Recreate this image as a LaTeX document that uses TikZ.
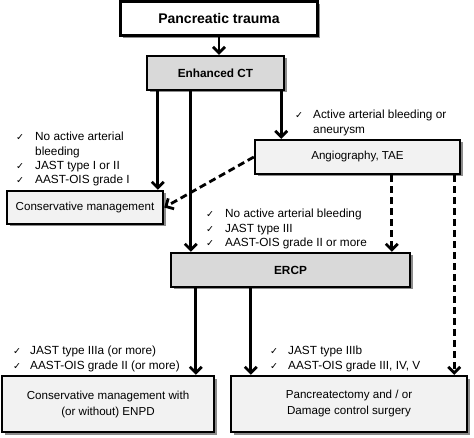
\documentclass[tikz,border=0pt]{standalone}
\usepackage{fontspec}
\setmainfont{Liberation Sans}
\newfontfamily\chkfont{DejaVu Sans}
\usetikzlibrary{arrows.meta,shadows}
\definecolor{boxgray}{HTML}{D9D9D9}
\definecolor{boxlight}{HTML}{F2F2F2}
\newcommand{\ck}{{\chkfont\fontsize{9.5}{9.5}\selectfont ✓}}
\newcommand{\lbl}{\fontsize{11.8}{14.2}\selectfont}
\begin{document}
\begin{tikzpicture}[x=1pt,y=-1pt,
  box/.style={draw=black,line width=2.4pt,rectangle,inner sep=2pt,align=center,
    font=\fontsize{11.6}{16}\selectfont,
    drop shadow={shadow xshift=2.5pt,shadow yshift=-2.5pt,fill=black!45,opacity=1}},
  graybox/.style={box,fill=boxgray},
  lightbox/.style={box,fill=boxlight},
  arr/.style={line width=2.8pt,-{Straight Barb[length=6pt,width=12pt,line width=2.8pt]}},
  darr/.style={arr,dash pattern=on 7pt off 4pt},
  lab/.style={inner sep=0pt,anchor=base west,font=\lbl}]
\useasboundingbox (0,0) rectangle (474,438);
% boxes
\node[box,fill=white,minimum width=197pt,minimum height=34pt,font=\bfseries\fontsize{14}{16}\selectfont] (trauma) at (219,18.5) {Pancreatic trauma};
\node[graybox,minimum width=137pt,minimum height=34pt,font=\bfseries\fontsize{11.8}{14}\selectfont] (ct) at (215.5,73) {Enhanced CT};
\node[lightbox,minimum width=205pt,minimum height=34pt] (angio) at (357.5,157) {Angiography, TAE};
\node[lightbox,minimum width=156pt,minimum height=33pt] (cons) at (85,207.5) {Conservative management};
\node[graybox,minimum width=239pt,minimum height=34pt,font=\bfseries\fontsize{11.8}{14}\selectfont] (ercp) at (290.5,270) {ERCP};
\node[lightbox,minimum width=212pt,minimum height=56pt] (enpd) at (108,404) {Conservative management with\\(or without) ENPD};
\node[lightbox,minimum width=236pt,minimum height=56pt] (surg) at (349,404) {Pancreatectomy and / or\\Damage control surgery};
% connectors
\draw[arr] (trauma.south) -- (trauma.south |- ct.north);
\draw[arr] ([xshift=12pt]ct.south west) -- ([xshift=12pt]ct.south west |- cons.north);
\draw[arr] ([xshift=45pt]ct.south west) -- ([xshift=45pt]ct.south west |- ercp.north);
\draw[arr] ([xshift=-4pt]ct.south east) -- ([xshift=-4pt]ct.south east |- angio.north);
\draw[darr] (angio.west) -- (cons.east);
\draw[darr] ([xshift=138pt]angio.south west) -- ([xshift=138pt]angio.south west |- ercp.north);
\draw[darr] ([xshift=-7pt]angio.south east) -- ([xshift=-7pt]angio.south east |- surg.north);
\draw[arr] ([xshift=26pt]ercp.south west) -- ([xshift=26pt]ercp.south west |- enpd.north);
\draw[arr] ([xshift=81pt]ercp.south west) -- ([xshift=81pt]ercp.south west |- surg.north);
% labels
\node[lab] (l1) at (295,119) {\begin{tabular}[t]{@{}p{18pt}@{}l@{}}\ck & Active arterial bleeding or\\ & aneurysm\end{tabular}};
\node[lab] (l2) at (16,141) {\begin{tabular}[t]{@{}p{19pt}@{}l@{}}\ck & No active arterial\\ & bleeding\\ \ck & JAST type I or II\\ \ck & AAST-OIS grade I\end{tabular}};
\node[lab] (l3) at (206,218) {\begin{tabular}[t]{@{}p{19pt}@{}l@{}}\ck & No active arterial bleeding\\ \ck & JAST type III\\ \ck & AAST-OIS grade II or more\end{tabular}};
\node[lab] (l4) at (13,355) {\begin{tabular}[t]{@{}p{17pt}@{}l@{}}\ck & JAST type IIIa (or more)\\ \ck & AAST-OIS grade II (or more)\end{tabular}};
\node[lab] (l5) at (270,355) {\begin{tabular}[t]{@{}p{18pt}@{}l@{}}\ck & JAST type IIIb\\ \ck & AAST-OIS grade III, IV, V\end{tabular}};
\end{tikzpicture}
\end{document}
